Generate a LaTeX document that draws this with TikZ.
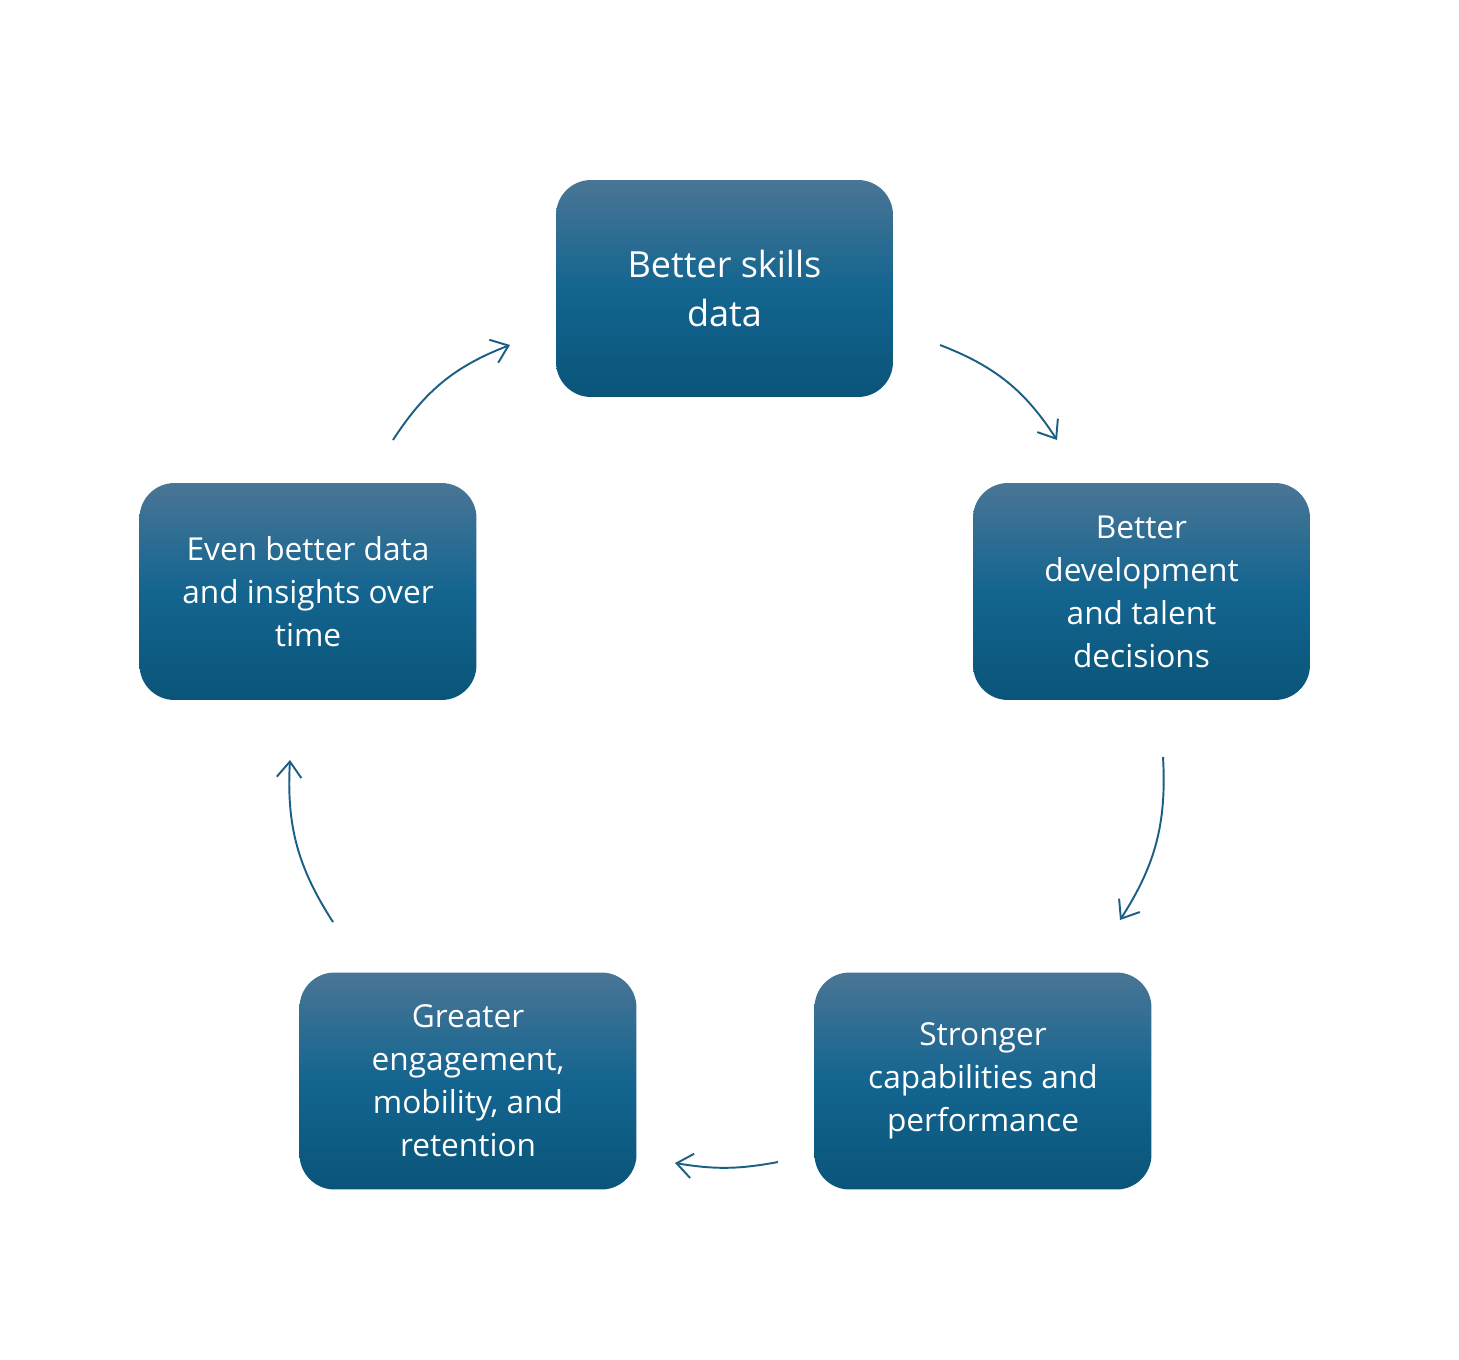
\documentclass[tikz,border=0pt]{standalone}
\usepackage{fontspec}
\setmainfont{Open Sans}
\usetikzlibrary{arrows.meta}
\definecolor{btop}{HTML}{4A7595}
\definecolor{bmid}{HTML}{136590}
\definecolor{bbot}{HTML}{0A5479}
\definecolor{arr}{HTML}{1B5F85}
\tikzset{
 box/.style={rounded corners=0.7cm, minimum width=6.74cm, minimum height=4.34cm,
   top color=btop, bottom color=bbot, middle color=bmid, text=white, align=center,
   inner sep=0pt, font=\fontsize{18}{24.5}\selectfont},
 cyc/.style={draw=arr, line width=1.1pt, -{Straight Barb[length=9pt,width=14pt]}, bend left=18}
}
\begin{document}
\begin{tikzpicture}[x=0.02cm,y=-0.02cm]
\useasboundingbox (0,0) rectangle (1459,1359);
\node[box, font=\fontsize{20.5}{28}\selectfont] (a) at (724.5,288.5) {Better skills\\data};
\node[box] (b) at (1141.5,591.5) {Better\\development\\and talent\\decisions};
\node[box] (c) at (983,1081) {Stronger\\capabilities and\\performance};
\node[box] (d) at (468,1081) {Greater\\engagement,\\mobility, and\\retention};
\node[box] (e) at (308,591.5) {Even better data\\and insights over\\time};
\coordinate (a1) at (940,345); \coordinate (a2) at (1057,440);
\coordinate (b1) at (1163,757); \coordinate (b2) at (1120,920);
\coordinate (c1) at (778,1162); \coordinate (c2) at (675,1163);
\coordinate (d1) at (333,922); \coordinate (d2) at (290,760);
\coordinate (e1) at (393,440); \coordinate (e2) at (510,345);
\draw[cyc] (a1) to (a2);
\draw[cyc] (b1) to (b2);
\draw[cyc, bend left=10] (c1) to (c2);
\draw[cyc] (d1) to (d2);
\draw[cyc] (e1) to (e2);
\end{tikzpicture}
\end{document}
